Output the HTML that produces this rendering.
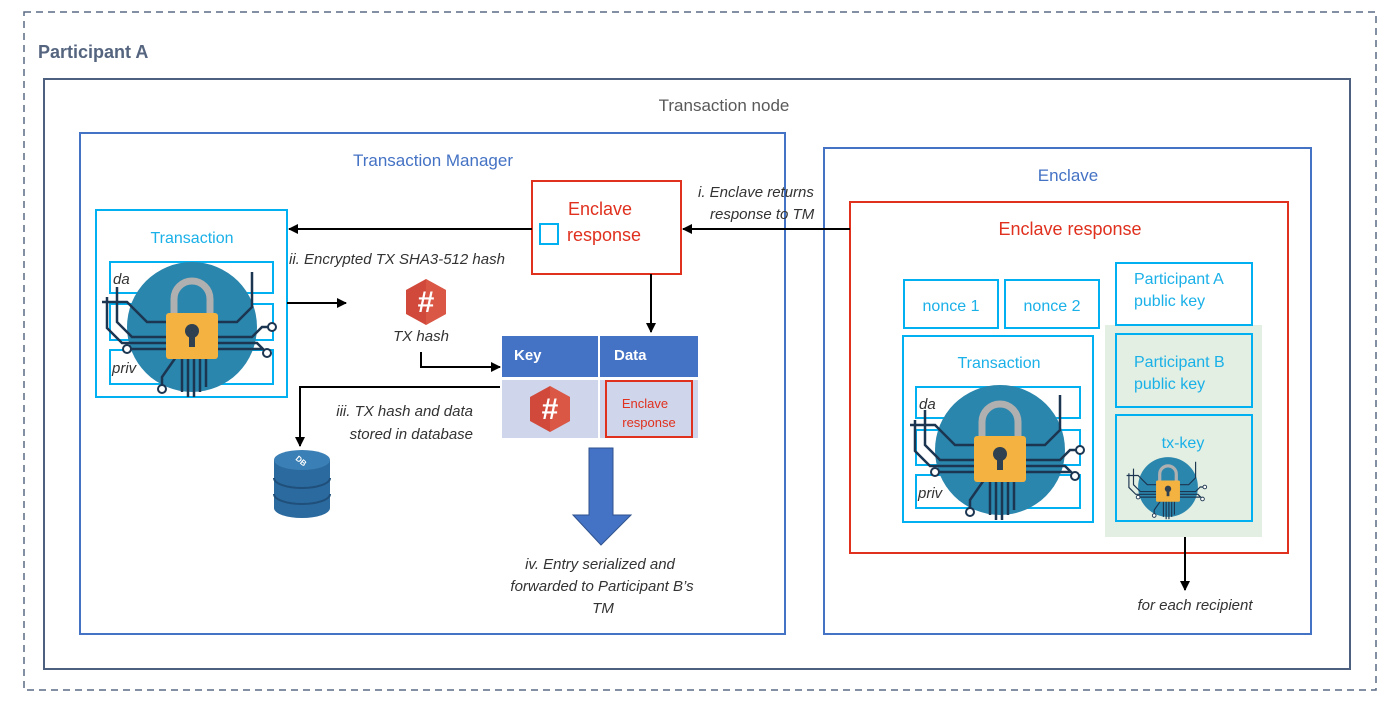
<!DOCTYPE html>
<html><head><meta charset="utf-8"><style>
html,body{margin:0;padding:0;background:#fff;}
svg{display:block;font-family:"Liberation Sans",sans-serif;}
.it{font-style:italic;fill:#333;font-size:15px;}
</style></head><body>
<svg width="1400" height="713" viewBox="0 0 1400 713" xmlns="http://www.w3.org/2000/svg">
<defs>
<marker id="ah" markerWidth="10" markerHeight="10" refX="9" refY="5" orient="auto" markerUnits="userSpaceOnUse">
<path d="M0,0 L10,5 L0,10 z" fill="#000"/></marker>
<g id="lock">
<circle cx="0" cy="0" r="65" fill="#2a86ad"/>
<g stroke="#1c3550" stroke-width="2.5" fill="none">
<path d="M-20,10 H-60 L-75,-5 V-40"/><path d="M-20,16 H-70 L-85,1 V-30"/>
<path d="M-20,-5 H-45 L-65,-25 H-90"/><path d="M-20,22 H-65"/>
<path d="M20,10 H60 L70,0 H80"/><path d="M20,16 H65 L75,26"/>
<path d="M20,-5 H45 L60,-20 V-55"/><path d="M20,22 H70"/>
<path d="M-10,30 V65"/><path d="M-4,30 V70"/><path d="M2,30 V70"/><path d="M8,30 V65"/><path d="M14,30 V60"/>
<path d="M-16,30 L-30,50 V60"/>
</g>
<g fill="#fff" stroke="#1c3550" stroke-width="2"><circle cx="80" cy="0" r="4"/><circle cx="-65" cy="22" r="4"/><circle cx="75" cy="26" r="4"/><circle cx="-30" cy="62" r="4"/></g>
<path d="M-18,-12 V-28 A18,18 0 0 1 18,-28 V-12" fill="none" stroke="#b0b0b0" stroke-width="7"/>
<rect x="-26" y="-14" width="52" height="46" rx="3" fill="#f4b340"/>
<circle cx="0" cy="4" r="7" fill="#2f4050"/><rect x="-3" y="6" width="6" height="14" fill="#2f4050"/>
</g>
<g id="hex">
<path d="M0,-23 L20,-12 L20,12 L0,23 L-20,12 L-20,-12 z" fill="#d1493a"/>
<path d="M0,-23 L20,-12 L20,12 L0,23 z" fill="#e0604c" opacity="0.6"/>
<text x="0" y="10" text-anchor="middle" font-size="30" font-weight="bold" fill="#fff">#</text>
</g>
</defs>

<rect x="24" y="12" width="1352" height="678" fill="none" stroke="#5a6b85" stroke-width="1.5" stroke-dasharray="7,5"/>
<text x="38" y="58" font-size="18" font-weight="bold" fill="#55657f">Participant A</text>

<rect x="44" y="79" width="1306" height="590" fill="none" stroke="#4e607f" stroke-width="2"/>
<text x="724" y="111" text-anchor="middle" font-size="17" fill="#595959">Transaction node</text>

<rect x="80" y="133" width="705" height="501" fill="none" stroke="#4472c4" stroke-width="2"/>
<text x="433" y="166" text-anchor="middle" font-size="17" fill="#4472c4">Transaction Manager</text>

<rect x="824" y="148" width="487" height="486" fill="none" stroke="#4472c4" stroke-width="2"/>
<text x="1068" y="181" text-anchor="middle" font-size="17" fill="#4472c4">Enclave</text>

<rect x="850" y="202" width="438" height="351" fill="none" stroke="#e0301e" stroke-width="2"/>
<text x="1070" y="235" text-anchor="middle" font-size="18" fill="#e0301e">Enclave response</text>

<!-- small enclave response -->
<rect x="532" y="181" width="149" height="93" fill="none" stroke="#e0301e" stroke-width="2"/>
<text x="600" y="215" text-anchor="middle" font-size="18" fill="#e0301e">Enclave</text>
<text x="604" y="241" text-anchor="middle" font-size="18" fill="#e0301e">response</text>
<rect x="540" y="224" width="18" height="20" fill="none" stroke="#00b0f0" stroke-width="2"/>

<!-- left transaction -->
<rect x="96" y="210" width="191" height="187" fill="none" stroke="#00b0f0" stroke-width="2"/>
<text x="192" y="243" text-anchor="middle" font-size="16" fill="#1ab0e8">Transaction</text>
<rect x="110" y="262" width="163" height="31" fill="#fff" stroke="#00b0f0" stroke-width="2"/>
<rect x="110" y="304" width="163" height="36" fill="#fff" stroke="#00b0f0" stroke-width="2"/>
<rect x="110" y="350" width="163" height="34" fill="#fff" stroke="#00b0f0" stroke-width="2"/>
<text x="113" y="284" font-size="15" font-style="italic" fill="#333">da</text>
<text x="112" y="373" font-size="15" font-style="italic" fill="#333">priv</text>
<use href="#lock" transform="translate(192,327)"/>

<!-- arrows -->
<line x1="532" y1="229" x2="289" y2="229" stroke="#000" stroke-width="2" marker-end="url(#ah)"/>
<text x="289" y="264" class="it">ii. Encrypted TX SHA3-512 hash</text>
<line x1="287" y1="303" x2="346" y2="303" stroke="#000" stroke-width="2" marker-end="url(#ah)"/>
<use href="#hex" transform="translate(426,302)"/>
<text x="421" y="341" text-anchor="middle" class="it">TX hash</text>
<polyline points="421,352 421,367 500,367" fill="none" stroke="#000" stroke-width="2" marker-end="url(#ah)"/>
<line x1="651" y1="274" x2="651" y2="332" stroke="#000" stroke-width="2" marker-end="url(#ah)"/>
<polyline points="500,387 300,387 300,446" fill="none" stroke="#000" stroke-width="2" marker-end="url(#ah)"/>
<text x="473" y="416" text-anchor="end" class="it">iii. TX hash and data</text>
<text x="473" y="439" text-anchor="end" class="it">stored in database</text>
<line x1="850" y1="229" x2="683" y2="229" stroke="#000" stroke-width="2" marker-end="url(#ah)"/>
<text x="698" y="197" class="it">i. Enclave returns</text>
<text x="710" y="219" class="it">response to TM</text>

<!-- table -->
<rect x="502" y="336" width="96" height="41" fill="#4472c4"/>
<rect x="600" y="336" width="98" height="41" fill="#4472c4"/>
<text x="514" y="360" font-size="15" font-weight="bold" fill="#fff">Key</text>
<text x="614" y="360" font-size="15" font-weight="bold" fill="#fff">Data</text>
<rect x="502" y="380" width="96" height="58" fill="#cfd5ea"/>
<rect x="600" y="380" width="98" height="58" fill="#cfd5ea"/>
<use href="#hex" transform="translate(550,409)"/>
<rect x="606" y="381" width="86" height="56" fill="none" stroke="#e0301e" stroke-width="2"/>
<text x="645" y="408" text-anchor="middle" font-size="13" fill="#e0301e">Enclave</text>
<text x="649" y="427" text-anchor="middle" font-size="13" fill="#e0301e">response</text>

<!-- DB -->
<path d="M274,460 V508 A28,10 0 0 0 330,508 V460 z" fill="#2b6a9e"/>
<path d="M274,460 V508 A28,10 0 0 0 330,508 V460" fill="none"/>
<ellipse cx="302" cy="460" rx="28" ry="10" fill="#3a7fb5"/>
<path d="M274,478 A28,10 0 0 0 330,478 M274,494 A28,10 0 0 0 330,494" fill="none" stroke="#1f4f7a" stroke-width="2"/>
<text x="302" y="464" text-anchor="middle" font-size="8" font-weight="bold" fill="#fff" transform="rotate(40 302 460)">DB</text>

<!-- big arrow -->
<path d="M589,448 H613 V515 H631 L601,545 L573,515 H589 z" fill="#4472c4" stroke="#2f528f" stroke-width="1"/>
<text x="600" y="569" text-anchor="middle" class="it">iv. Entry serialized and</text>
<text x="602" y="591" text-anchor="middle" class="it">forwarded to Participant B’s</text>
<text x="603" y="613" text-anchor="middle" class="it">TM</text>

<!-- enclave response content -->
<rect x="1105" y="325" width="157" height="212" fill="#e3efe2"/>
<rect x="904" y="280" width="94" height="48" fill="none" stroke="#00b0f0" stroke-width="2"/>
<rect x="1005" y="280" width="94" height="48" fill="none" stroke="#00b0f0" stroke-width="2"/>
<text x="951" y="311" text-anchor="middle" font-size="16" fill="#1ab0e8">nonce 1</text>
<text x="1052" y="311" text-anchor="middle" font-size="16" fill="#1ab0e8">nonce 2</text>
<rect x="1116" y="263" width="136" height="62" fill="#fff" stroke="#00b0f0" stroke-width="2"/>
<text x="1134" y="284" font-size="16" fill="#1ab0e8">Participant A</text>
<text x="1134" y="306" font-size="16" fill="#1ab0e8">public key</text>
<rect x="1116" y="334" width="136" height="73" fill="none" stroke="#00b0f0" stroke-width="2"/>
<text x="1134" y="367" font-size="16" fill="#1ab0e8">Participant B</text>
<text x="1134" y="389" font-size="16" fill="#1ab0e8">public key</text>
<rect x="1116" y="415" width="136" height="106" fill="none" stroke="#00b0f0" stroke-width="2"/>
<text x="1183" y="448" text-anchor="middle" font-size="16" fill="#1ab0e8">tx-key</text>
<use href="#lock" transform="translate(1168,487) scale(0.46)"/>

<rect x="903" y="336" width="190" height="186" fill="none" stroke="#00b0f0" stroke-width="2"/>
<text x="999" y="368" text-anchor="middle" font-size="16" fill="#1ab0e8">Transaction</text>
<rect x="916" y="387" width="164" height="31" fill="#fff" stroke="#00b0f0" stroke-width="2"/>
<rect x="916" y="430" width="164" height="35" fill="#fff" stroke="#00b0f0" stroke-width="2"/>
<rect x="916" y="475" width="164" height="33" fill="#fff" stroke="#00b0f0" stroke-width="2"/>
<text x="919" y="409" font-size="15" font-style="italic" fill="#333">da</text>
<text x="918" y="498" font-size="15" font-style="italic" fill="#333">priv</text>
<use href="#lock" transform="translate(1000,450)"/>

<line x1="1185" y1="537" x2="1185" y2="590" stroke="#000" stroke-width="2" marker-end="url(#ah)"/>
<text x="1195" y="610" text-anchor="middle" class="it">for each recipient</text>
</svg>
</body></html>
